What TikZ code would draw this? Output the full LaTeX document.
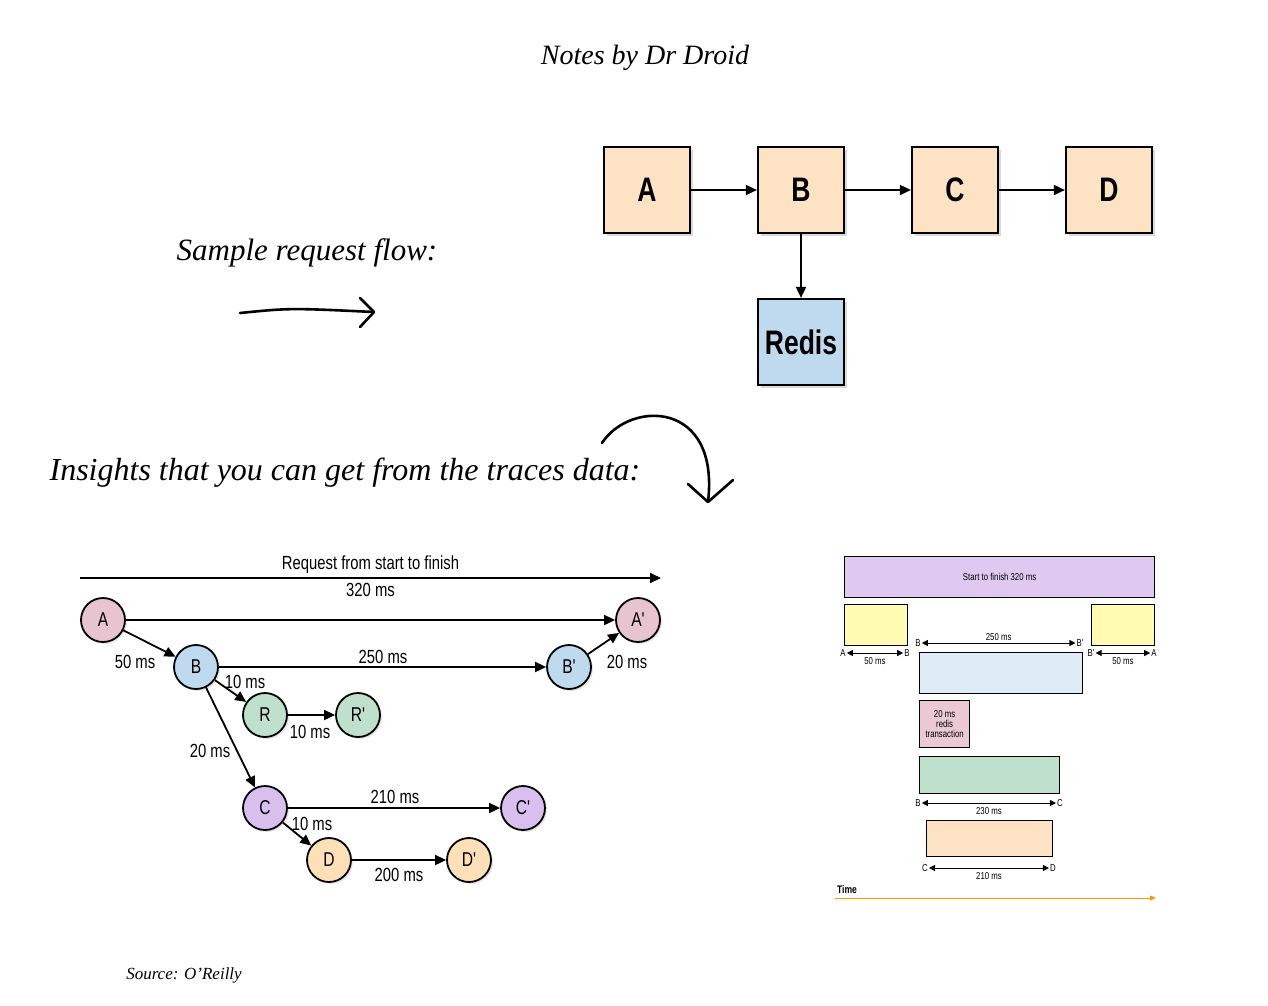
\documentclass[tikz,border=0pt]{standalone}
\usepackage{fontspec}
\setmainfont{Liberation Serif}
\newfontfamily\cond{Liberation Sans}[FakeStretch=0.78]
\usetikzlibrary{positioning, arrows.meta, shadows}
\definecolor{boxorange}{HTML}{FDE3C3}
\definecolor{boxblue}{HTML}{BFD9EE}
\definecolor{spanpink}{HTML}{E8C3D0}
\definecolor{spangreen}{HTML}{BFE0CC}
\definecolor{spanviolet}{HTML}{D9BFEE}
\definecolor{spanorange}{HTML}{FDE0B8}
\tikzset{
	service/.style={draw, line width=2.2pt, minimum size=86pt, inner sep=0pt, drop shadow={shadow xshift=3pt, shadow yshift=-3pt, opacity=0.3}, font=\cond\fontsize{34}{34}\selectfont\bfseries},
	span/.style={draw, circle, line width=1.8pt, minimum size=44pt, inner sep=0pt, drop shadow={shadow xshift=2pt, shadow yshift=-2pt, opacity=0.2}, font=\cond\fontsize{20}{20}\selectfont},
	bar/.style={draw, line width=1.2pt, anchor=north west, inner sep=0pt},
	flow/.style={-{Triangle[length=11pt,width=10pt]}, line width=1.8pt},
	span arrow/.style={{Triangle[length=6pt,width=6pt]}-{Triangle[length=6pt,width=6pt]}, line width=1pt},
	lbl/.style={font=\cond\fontsize{19}{19}\selectfont, inner sep=1pt},
	small/.style={font=\cond\fontsize{10}{10}\selectfont, inner sep=1pt},
	hand/.style={line width=2.6pt, line cap=round, line join=round}
}
\begin{document}
\begin{tikzpicture}[x=1pt, y=-1pt]
	\useasboundingbox (0,0) rectangle (1268,1005);

	\node[font=\itshape\fontsize{28}{28}\selectfont] (title) at (645,58) {Notes by Dr Droid};

	% sample request flow
	\node[service, fill=boxorange] (a) at (647,190) {A};
	\node[service, fill=boxorange] (b) at (801,190) {B};
	\node[service, fill=boxorange] (c) at (955,190) {C};
	\node[service, fill=boxorange] (d) at (1109,190) {D};
	\node[service, fill=boxblue] (redis) at (801,342) {Redis};
	\draw[flow] (a) -- (b);
	\draw[flow] (b) -- (c);
	\draw[flow] (c) -- (d);
	\draw[flow] (b) -- (redis);

	\node[font=\itshape\fontsize{31}{31}\selectfont] (sample) at (307,253) {Sample request flow:};
	\coordinate (h1) at (240,313);
	\coordinate (h2) at (374,312);
	\draw[hand] (h1) .. controls (290,308) .. (h2);
	\draw[hand] (360,298) -- (h2) -- (360,327);

	\node[font=\itshape\fontsize{32}{32}\selectfont] (insights) at (345,473) {Insights that you can get from the traces data:};
	\coordinate (c1) at (602,443);
	\coordinate (c2) at (708,502);
	\draw[hand] (c1) .. controls (630,400) and (720,400) .. (c2);
	\draw[hand] (688,484) -- (c2) -- (733,480);

	% span tree
	\coordinate (top1) at (80,578);
	\coordinate (top2) at (661,578);
	\draw[flow] (top1) -- node[lbl, above=3pt] {Request from start to finish} node[lbl, below=3pt] {320 ms} (top2);

	\node[span, fill=spanpink] (sa) at (103,620) {A};
	\node[span, fill=spanpink] (saa) at (638,620) {A'};
	\node[span, fill=boxblue] (sb) at (196,667) {B};
	\node[span, fill=boxblue] (sbb) at (569,667) {B'};
	\node[span, fill=spangreen] (sr) at (265,715) {R};
	\node[span, fill=spangreen] (srr) at (358,715) {R'};
	\node[span, fill=spanviolet] (sc) at (265,808) {C};
	\node[span, fill=spanviolet] (scc) at (523,808) {C'};
	\node[span, fill=spanorange] (sd) at (329,860) {D};
	\node[span, fill=spanorange] (sdd) at (469,860) {D'};

	\draw[flow] (sa) -- (saa);
	\draw[flow] (sa) -- (sb);
	\draw[flow] (sb) -- (sbb);
	\draw[flow] (sbb) -- (saa);
	\draw[flow] (sb) -- (sr);
	\draw[flow] (sr) -- (srr);
	\draw[flow] (sb) -- (sc);
	\draw[flow] (sc) -- (scc);
	\draw[flow] (sc) -- (sd);
	\draw[flow] (sd) -- (sdd);

	\node[lbl] at (135,662) {50 ms};
	\node[lbl] at (383,657) {250 ms};
	\node[lbl] at (627,662) {20 ms};
	\node[lbl] at (245,682) {10 ms};
	\node[lbl] at (310,732) {10 ms};
	\node[lbl] at (210,751) {20 ms};
	\node[lbl] at (395,797) {210 ms};
	\node[lbl] at (312,824) {10 ms};
	\node[lbl] at (399,875) {200 ms};

	% timeline
	\node[bar, fill=spanviolet!85, minimum width=310pt, minimum height=41pt, small] (total) at (844,556) {Start to finish 320 ms};
	\node[bar, fill=yellow!30, minimum width=63pt, minimum height=41pt] (ya) at (844,604) {};
	\node[bar, fill=yellow!30, minimum width=63pt, minimum height=41pt] (yb) at (1091,604) {};
	\node[bar, fill=boxblue!50, minimum width=163pt, minimum height=41pt] (tb) at (919,652) {};
	\node[bar, fill=spanpink!90, minimum width=50pt, minimum height=47pt, small, align=center] (tr) at (919,700) {20 ms\\redis\\transaction};
	\node[bar, fill=spangreen, minimum width=140pt, minimum height=37pt] (tc) at (919,756) {};
	\node[bar, fill=boxorange, minimum width=126pt, minimum height=36pt] (td) at (926,820) {};

	\node[small] (la1) at (843,653) {A};
	\node[small] (lb1) at (907,653) {B};
	\node[small] (lb2) at (918,643) {B};
	\node[small] (lbb2) at (1080,643) {B'};
	\node[small] (lbb3) at (1091,653) {B'};
	\node[small] (la3) at (1154,653) {A};
	\node[small] (lb4) at (918,803) {B};
	\node[small] (lc4) at (1060,803) {C};
	\node[small] (lc5) at (925,868) {C};
	\node[small] (ld5) at (1053,868) {D};
	\draw[span arrow] (la1) -- node[small, below=3pt] {50 ms} (lb1);
	\draw[span arrow] (lb2) -- node[small, above=1pt] {250 ms} (lbb2);
	\draw[span arrow] (lbb3) -- node[small, below=3pt] {50 ms} (la3);
	\draw[span arrow] (lb4) -- node[small, below=3pt] {230 ms} (lc4);
	\draw[span arrow] (lc5) -- node[small, below=3pt] {210 ms} (ld5);

	\node[small, font=\cond\fontsize{11}{11}\selectfont\bfseries] (time) at (847,890) {Time};
	\coordinate (t1) at (835,898);
	\coordinate (t2) at (1156,898);
	\draw[-{Triangle[length=6pt,width=5pt]}, line width=0.8pt, orange!80!yellow] (t1) -- (t2);

	\node[font=\itshape\fontsize{17}{17}\selectfont] (source) at (184,975) {Source: O'Reilly};
\end{tikzpicture}
\end{document}
